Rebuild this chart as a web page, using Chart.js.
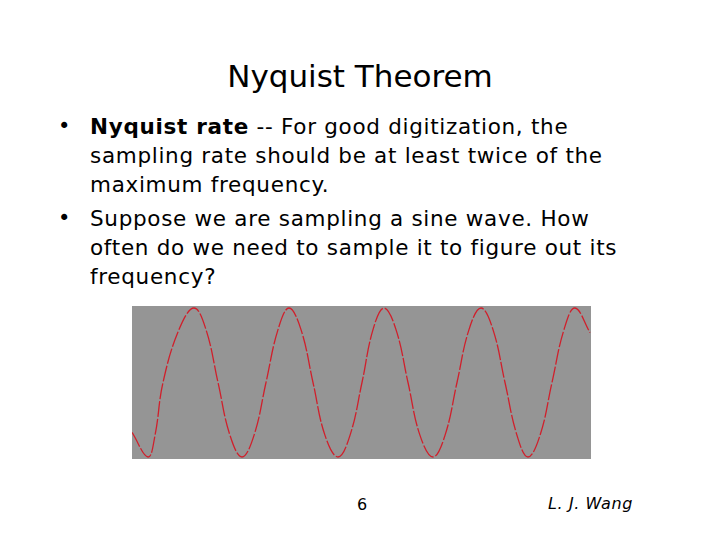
<!DOCTYPE html>
<html>
<head>
<meta charset="utf-8">
<script src="https://cdn.jsdelivr.net/npm/chart.js@4"></script>
<style>
body{margin:0;width:720px;height:540px;background:#fff;font-family:"DejaVu Sans",Verdana,sans-serif;position:relative;overflow:hidden}
#title{position:absolute;top:58px;left:0;width:720px;text-align:center;font-size:31px}
.dot{position:absolute;left:58px;font-size:21px;line-height:29px}
.t{position:absolute;left:90px;font-size:21.5px;line-height:29px;letter-spacing:0.7px;white-space:nowrap}
#wrap{position:absolute;left:132px;top:306px;width:459px;height:153px;background:#959595}
#page{position:absolute;left:357px;top:495px;font-size:16px}
#auth{position:absolute;left:548px;top:494px;font-size:16px;font-style:italic;letter-spacing:0.6px}
</style>
</head>
<body>
<div id="title">Nyquist Theorem</div>
<div class="dot" style="top:112px">•</div>
<div class="t" style="top:112px"><b>Nyquist rate</b> -- For good digitization, the<br>sampling rate should be at least twice of the<br>maximum frequency.</div>
<div class="dot" style="top:204px">•</div>
<div class="t" style="top:204px">Suppose we are sampling a sine wave. How<br>often do we need to sample it to figure out its<br>frequency?</div>
<div id="wrap"><canvas id="wave"></canvas></div>
<div id="page">6</div>
<div id="auth">L. J. Wang</div>
<script>
// samples (x in px from left edge of plot, y in amplitude units)
var sampleX = [0,16,23,31,47,62,74,86,98,110,122,134,146,157,169,181,193,206,218,230,241,252,264,276,288,301,313,325,337,349,361,373,385,396,408,420,432,443,458];
var sampleY = [-0.67,-1,-0.71,0,0.71,1,0.71,0,-0.71,-1,-0.71,0,0.71,1,0.71,0,-0.71,-1,-0.71,0,0.71,1,0.71,0,-0.71,-1,-0.71,0,0.71,1,0.71,0,-0.71,-1,-0.71,0,0.71,1,0.67];

var pts = [];
for (var i = 0; i < sampleX.length; i++) pts.push({x: sampleX[i], y: sampleY[i]});

new Chart(document.getElementById("wave"), {
    type: 'line',
    data: {
        datasets: [{
            data: pts,
            borderColor: '#d01f2b',
            borderWidth: 1.3,
            borderDash: [16, 2],
            pointRadius: 0,
            tension: 0.4,
            fill: false
        }]
    },
    options: {
        responsive: true,
        maintainAspectRatio: false,
        animation: false,
        layout: {padding: 0},
        plugins: {legend: {display: false}, tooltip: {enabled: false}},
        scales: {
            x: {type: 'linear', min: 0, max: 459, display: false},
            y: {min: -1.027, max: 1.027, display: false}
        }
    }
});
</script>
</body>
</html>
